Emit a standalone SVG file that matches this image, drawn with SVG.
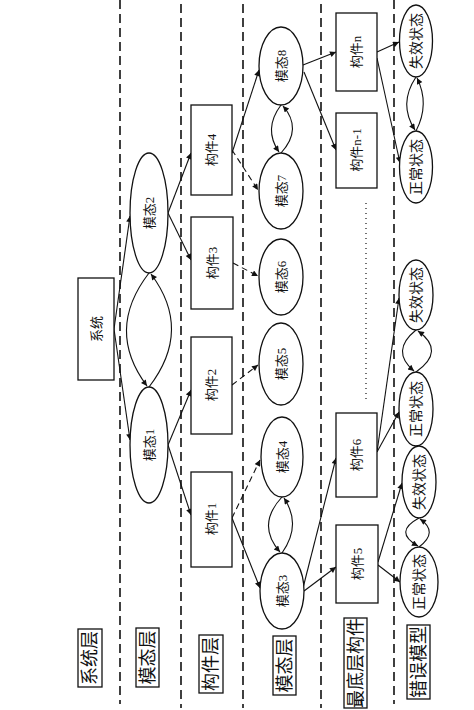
<svg xmlns="http://www.w3.org/2000/svg" width="474" height="710" viewBox="0 0 474 710">
<style>
.bg{fill:#fff}
.sep{stroke:#111;stroke-width:1.6;stroke-dasharray:9,5;fill:none}
.box{fill:#fff;stroke:#111;stroke-width:1.3}
.ell{fill:#fff;stroke:#111;stroke-width:1.3}
.t{font-family:"Liberation Serif","Noto Sans CJK SC",serif;font-size:13px;fill:#111;text-anchor:middle;dominant-baseline:central}
.ts{font-size:14px}
.lab{font-family:"Liberation Serif","Noto Sans CJK SC",serif;font-size:18px;fill:#111;text-anchor:middle;dominant-baseline:central}
.lbox{fill:#fff;stroke:#111;stroke-width:1.3}
.c{stroke:#111;stroke-width:1.1;fill:none;marker-end:url(#ah)}
.d{stroke-dasharray:6,4}
.dots{stroke:#111;stroke-width:1.2;stroke-dasharray:1,4;fill:none}
</style>
<defs>
<marker id="ah" viewBox="0 0 10 10" refX="10" refY="5" markerWidth="8" markerHeight="6" markerUnits="userSpaceOnUse" orient="auto">
<path d="M0,0 L10,5 L0,10 z" fill="#111"/>
</marker>
</defs>
<rect class="bg" x="0" y="0" width="474" height="710"/>
<g id="separators">
<line class="sep" x1="120" y1="0" x2="120" y2="704"/>
<line class="sep" x1="181" y1="4" x2="181" y2="708"/>
<line class="sep" x1="243" y1="4" x2="243" y2="708"/>
<line class="sep" x1="321" y1="4" x2="321" y2="708"/>
<line class="sep" x1="394" y1="0" x2="394" y2="704"/>
<line class="dots" x1="366" y1="203" x2="366" y2="402"/>
</g>
<g id="connectors">
<path class="c" d="M114,329 L130,216"/>
<path class="c" d="M114,329 L130,440"/>
<path class="c" d="M149,387 Q193,330 151,274"/>
<path class="c" d="M149,273 Q105,330 147,386"/>
<path class="c" d="M168,213 L191,153"/>
<path class="c" d="M168,213 L191,260"/>
<path class="c" d="M168,445 L191,390"/>
<path class="c" d="M168,445 L191,515"/>
<path class="c" d="M232,153 L259,70"/>
<path class="c d" d="M232,150 L258,190"/>
<path class="c d" d="M233,263 L258,276"/>
<path class="c d" d="M232,385 L258,365"/>
<path class="c d" d="M232,518 L260,460"/>
<path class="c" d="M232,518 L260,588"/>
<path class="c" d="M281,153 Q303,129 283,106"/>
<path class="c" d="M281,105 Q263,129 279,152"/>
<path class="c" d="M282,553 Q302,525 284,498"/>
<path class="c" d="M282,497 Q256,525 280,552"/>
<path class="c" d="M303,65 L336,52"/>
<path class="c" d="M304,72 L336,150"/>
<path class="c" d="M303,588 L336,458"/>
<path class="c" d="M304,591 L336,567"/>
<path class="c" d="M377,52 L399,42"/>
<path class="c" d="M377,58 L400,163"/>
<path class="c" d="M377,452 L399,298"/>
<path class="c" d="M377,452 L399,412"/>
<path class="c" d="M378,562 L402,483"/>
<path class="c" d="M378,565 L400,582"/>
<path class="c" d="M416,131 Q430,104 417,78"/>
<path class="c" d="M416,77 Q398,104 415,130"/>
<path class="c" d="M416,372 Q446,351 418,331"/>
<path class="c" d="M416,330 Q390,351 414,371"/>
<path class="c" d="M419,547 Q439,532 420,519"/>
<path class="c" d="M419,518 Q393,532 418,546"/>
</g>
<g id="系统"><rect class="box" x="78" y="278" width="36" height="102"/><text class="t" transform="translate(96,329) rotate(-90)">系统</text></g>
<g id="模态2"><ellipse class="ell" cx="149" cy="213" rx="19" ry="60"/><text class="t" transform="translate(149,213) rotate(-90)">模态2</text></g>
<g id="模态1"><ellipse class="ell" cx="149" cy="445" rx="19" ry="58"/><text class="t" transform="translate(149,445) rotate(-90)">模态1</text></g>
<g id="构件4"><rect class="box" x="191" y="105" width="41" height="90"/><text class="t" transform="translate(211.5,150) rotate(-90)">构件4</text></g>
<g id="构件3"><rect class="box" x="191" y="217" width="42" height="92"/><text class="t" transform="translate(212,263) rotate(-90)">构件3</text></g>
<g id="构件2"><rect class="box" x="191" y="337" width="41" height="97"/><text class="t" transform="translate(211.5,385) rotate(-90)">构件2</text></g>
<g id="构件1"><rect class="box" x="191" y="472" width="41" height="95"/><text class="t" transform="translate(211.5,519) rotate(-90)">构件1</text></g>
<g id="模态8"><ellipse class="ell" cx="281" cy="66" rx="22" ry="39"/><text class="t" transform="translate(281,66) rotate(-90)">模态8</text></g>
<g id="模态7"><ellipse class="ell" cx="281" cy="191" rx="22" ry="38"/><text class="t" transform="translate(281,191) rotate(-90)">模态7</text></g>
<g id="模态6"><ellipse class="ell" cx="281" cy="277" rx="22" ry="38"/><text class="t" transform="translate(281,277) rotate(-90)">模态6</text></g>
<g id="模态5"><ellipse class="ell" cx="281" cy="364" rx="22" ry="41"/><text class="t" transform="translate(281,364) rotate(-90)">模态5</text></g>
<g id="模态4"><ellipse class="ell" cx="282" cy="457" rx="21" ry="40"/><text class="t" transform="translate(282,457) rotate(-90)">模态4</text></g>
<g id="模态3"><ellipse class="ell" cx="282" cy="591" rx="22" ry="38"/><text class="t" transform="translate(282,591) rotate(-90)">模态3</text></g>
<g id="构件n"><rect class="box" x="336" y="13" width="41" height="78"/><text class="t" transform="translate(356.5,52) rotate(-90)">构件n</text></g>
<g id="构件n-1"><rect class="box" x="336" y="113" width="41" height="75"/><text class="t" transform="translate(356.5,150) rotate(-90)">构件n-1</text></g>
<g id="构件6"><rect class="box" x="336" y="413" width="41" height="84"/><text class="t" transform="translate(356.5,455) rotate(-90)">构件6</text></g>
<g id="构件5"><rect class="box" x="336" y="525" width="42" height="78"/><text class="t" transform="translate(357,564) rotate(-90)">构件5</text></g>
<g id="失效状态n"><ellipse class="ell" cx="416" cy="41" rx="16.5" ry="36"/><text class="t ts" transform="translate(416,41) rotate(-90)">失效状态</text></g>
<g id="正常状态n"><ellipse class="ell" cx="416" cy="167" rx="16.5" ry="36"/><text class="t ts" transform="translate(416,167) rotate(-90)">正常状态</text></g>
<g id="失效状态6"><ellipse class="ell" cx="416" cy="295" rx="17" ry="35"/><text class="t ts" transform="translate(416,295) rotate(-90)">失效状态</text></g>
<g id="正常状态6"><ellipse class="ell" cx="416" cy="409" rx="17" ry="37"/><text class="t ts" transform="translate(416,409) rotate(-90)">正常状态</text></g>
<g id="失效状态5"><ellipse class="ell" cx="419" cy="482" rx="17" ry="36"/><text class="t ts" transform="translate(419,482) rotate(-90)">失效状态</text></g>
<g id="正常状态5"><ellipse class="ell" cx="419" cy="582" rx="19" ry="35"/><text class="t ts" transform="translate(419,582) rotate(-90)">正常状态</text></g>
<g id="labels">
<rect class="lbox" x="78" y="629" width="24" height="58"/><text class="lab" transform="translate(90,658) rotate(-90)">系统层</text>
<rect class="lbox" x="136" y="628" width="23" height="59"/><text class="lab" transform="translate(147.5,657.5) rotate(-90)">模态层</text>
<rect class="lbox" x="199" y="635" width="24" height="58"/><text class="lab" transform="translate(211,664) rotate(-90)">构件层</text>
<rect class="lbox" x="273" y="636" width="23" height="59"/><text class="lab" transform="translate(284.5,665.5) rotate(-90)">模态层</text>
<rect class="lbox" x="344" y="618" width="23" height="90"/><text class="lab" transform="translate(355.5,663) rotate(-90)">最底层构件</text>
<rect class="lbox" x="407" y="625" width="23" height="74"/><text class="lab" transform="translate(418.5,662) rotate(-90)">错误模型</text>
</g>
</svg>
